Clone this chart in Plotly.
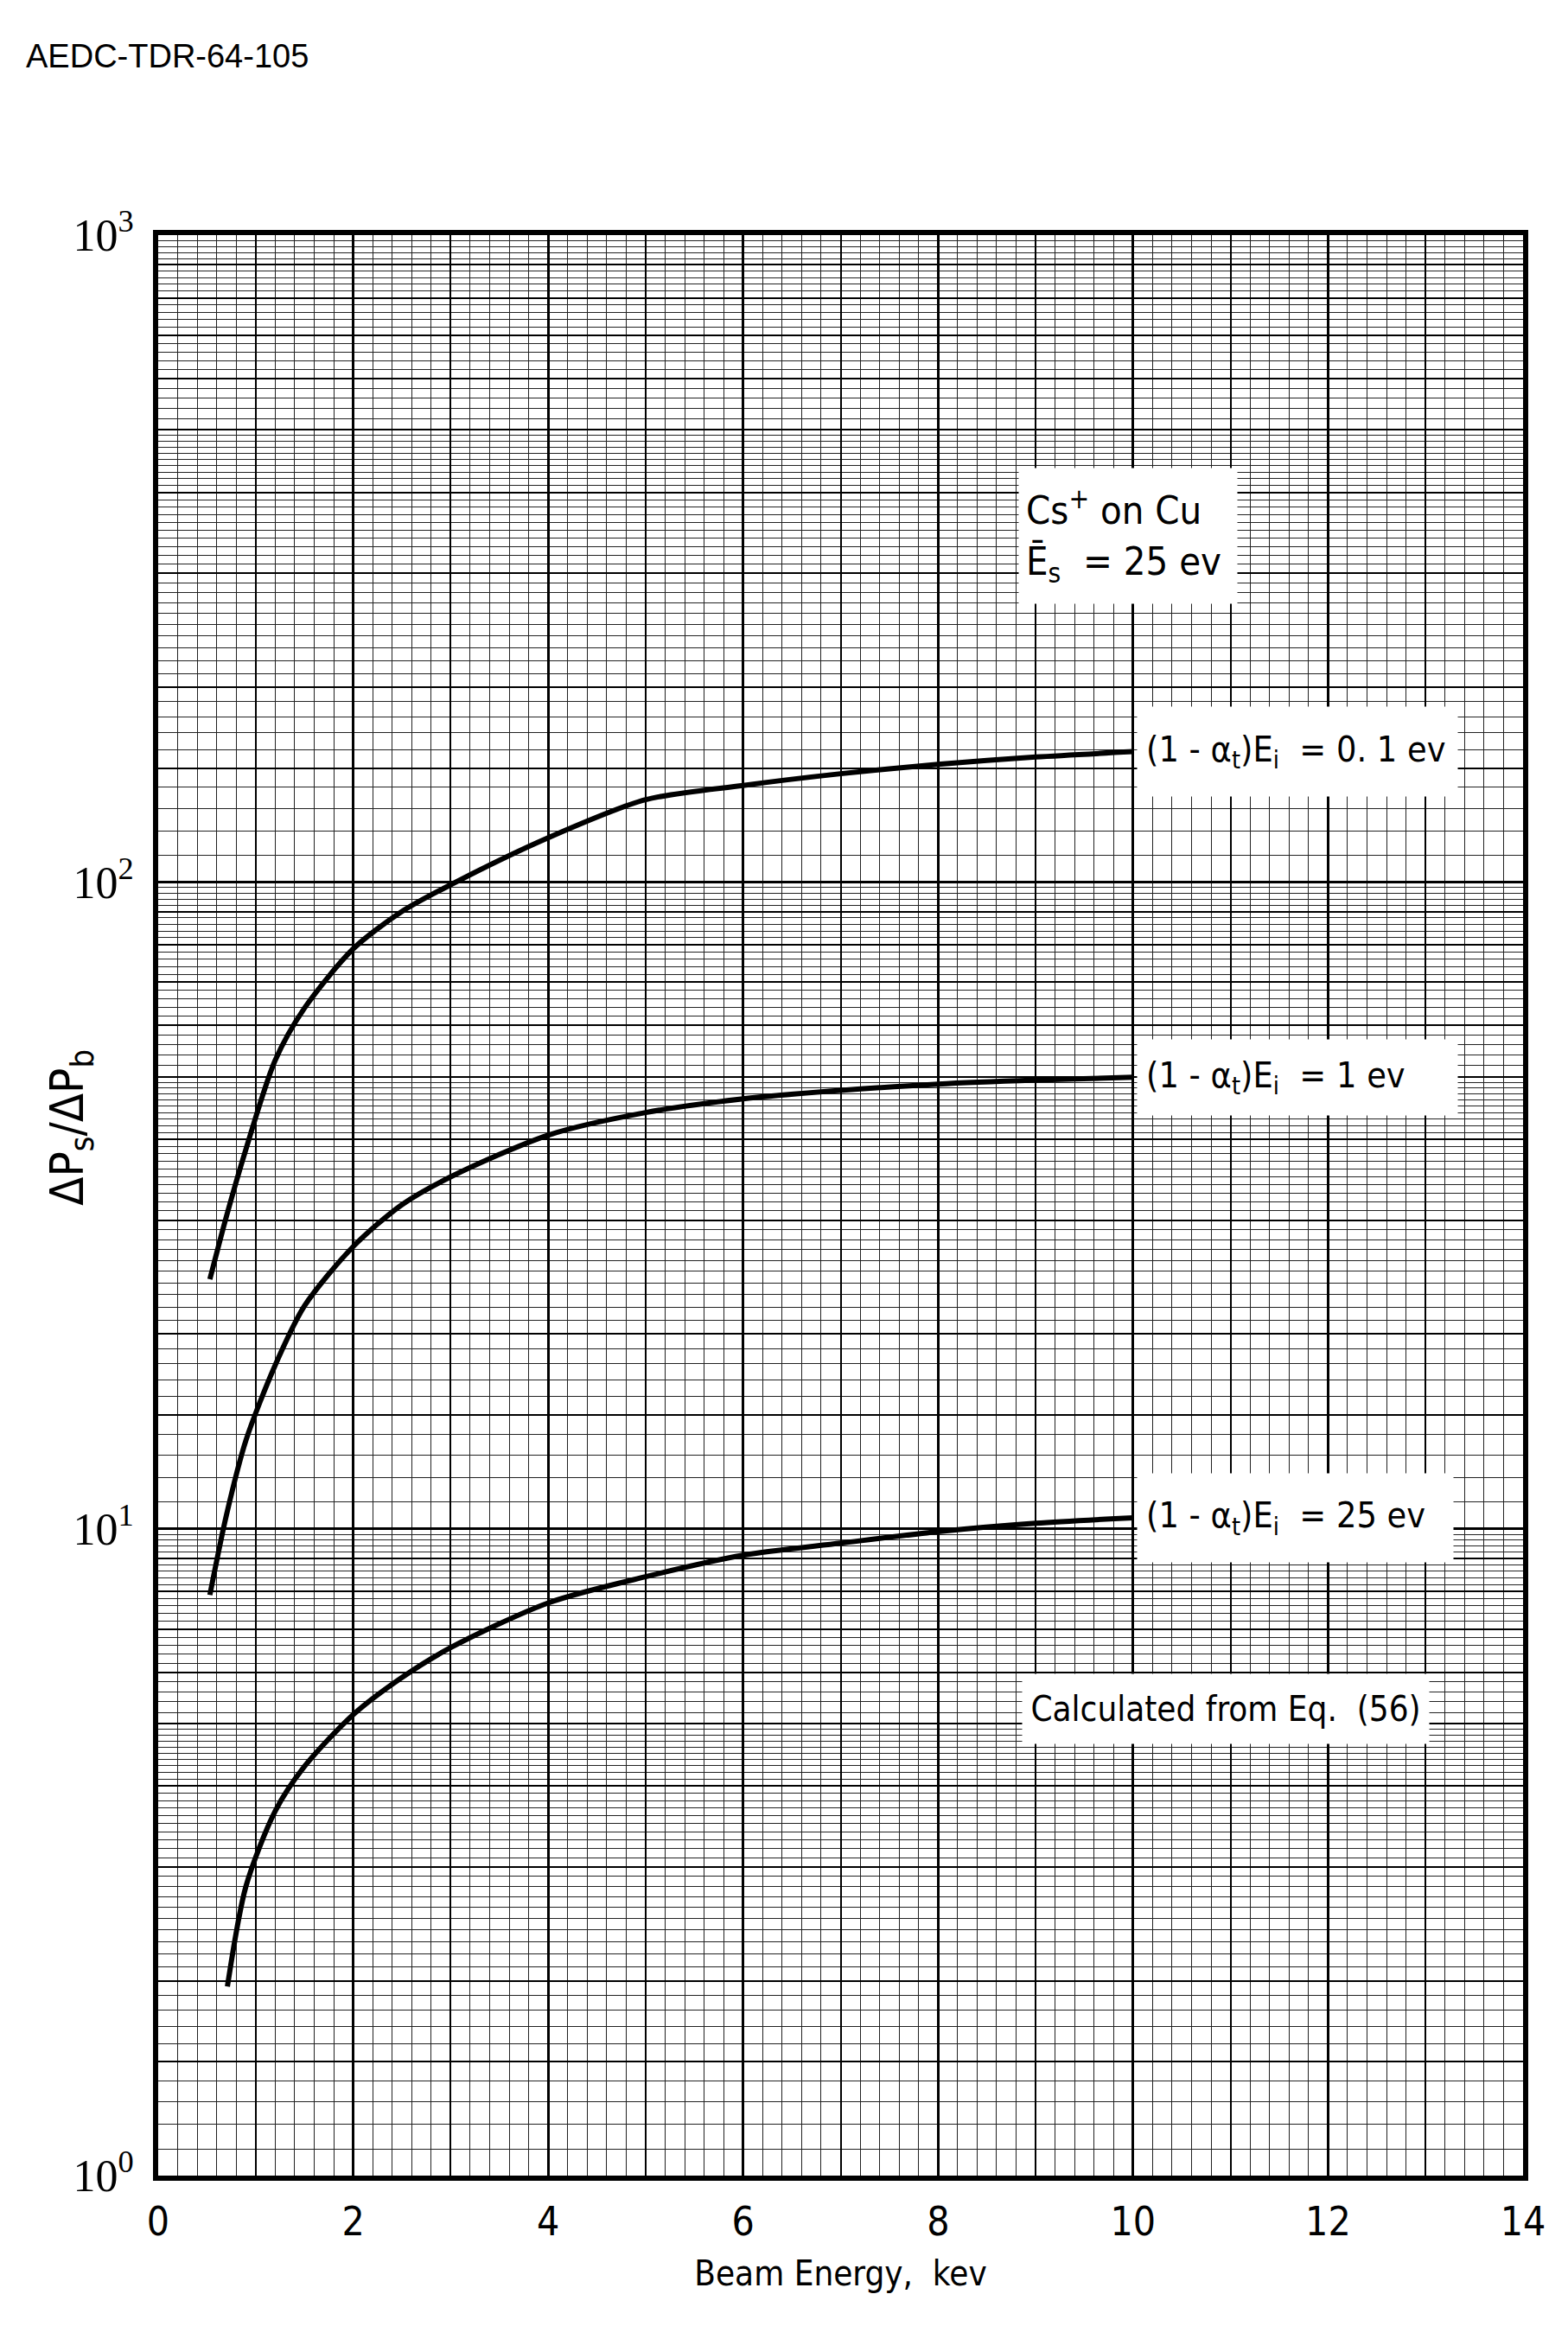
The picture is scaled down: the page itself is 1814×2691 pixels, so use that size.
import numpy as np
import plotly.graph_objects as go

# ---------------- data ----------------
energy_a = [0.53, 0.7, 0.9, 1.2, 1.5, 2.0, 2.5, 3.0, 4.0, 5.0, 6.0, 7.0, 8.0, 9.0, 10.0]
ratio_a = [24.3, 30.4, 38.6, 53.0, 63.8, 78.8, 90.0, 99.0, 117.0, 134.0, 141.0, 147.0, 152.0, 156.0, 159.0]

energy_b = [0.53, 0.7, 0.9, 1.2, 1.5, 2.0, 2.5, 3.0, 4.0, 5.0, 6.0, 7.0, 8.0, 9.0, 10.0]
ratio_b = [7.9, 10.5, 13.7, 17.9, 22.1, 27.3, 31.7, 35.0, 40.6, 44.0, 46.2, 47.6, 48.7, 49.4, 49.9]

energy_c = [0.71, 0.9, 1.2, 1.5, 2.0, 2.5, 3.0, 4.0, 5.0, 6.0, 7.0, 8.0, 9.0, 10.0]
ratio_c = [1.96, 2.8, 3.66, 4.29, 5.16, 5.89, 6.55, 7.68, 8.43, 9.1, 9.5, 9.9, 10.2, 10.4]

curve_labels = [
    "(1 - α<sub>t</sub>)E<sub>i</sub>  = 0. 1 ev",
    "(1 - α<sub>t</sub>)E<sub>i</sub>  = 1 ev",
    "(1 - α<sub>t</sub>)E<sub>i</sub>  = 25 ev",
]

x_tick_vals = [0, 2, 4, 6, 8, 10, 12, 14]
x_mid_vals = [1, 3, 5, 7, 9, 11, 13]
y_tick_vals = [1, 10, 100, 1000]
y_tick_text = ["10<sup>%d</sup>" % k for k in range(4)]
decades = [1, 10, 100]
mantissa_mid = [1.5, 2, 3, 4, 5, 6, 7, 8, 9]
mantissa_fine = [round(1 + 0.1 * k, 2) for k in range(1, 40)] + [round(5 + 0.2 * k, 2) for k in range(1, 25)]

y_mid_vals = [d * m for d in decades for m in mantissa_mid]
y_fine_vals = [d * m for d in decades for m in mantissa_fine if m not in mantissa_mid]

SANS = "Liberation Sans Narrow, DejaVu Sans Condensed, Liberation Sans, sans-serif"
SERIF = "Liberation Serif, DejaVu Serif, serif"

fig = go.Figure()
for xs, ys in [(energy_a, ratio_a), (energy_b, ratio_b), (energy_c, ratio_c)]:
    fig.add_trace(go.Scatter(
        x=xs, y=ys, mode="lines", xaxis="x2", yaxis="y2",
        line=dict(color="black", width=6, shape="spline", smoothing=0.8),
        showlegend=False, hoverinfo="skip"))

label_boxes = [(350, 83), (350, 67), (345, 82)]
annotations = []
for (xs, ys, lab), (bw, bh) in zip([(energy_a, ratio_a, curve_labels[0]),
                                    (energy_b, ratio_b, curve_labels[1]),
                                    (energy_c, ratio_c, curve_labels[2])], label_boxes):
    annotations.append(dict(
        x=xs[-1], y=np.log10(ys[-1]), xref="x", yref="y", text=lab,
        xanchor="left", yanchor="middle", xshift=4, showarrow=False,
        align="left", width=bw, height=bh,
        font=dict(family=SANS, size=41, color="black"),
        bgcolor="white", borderpad=10))

annotations.append(dict(
    x=9.95, y=np.log10(343), xref="x", yref="y",
    text="Cs<sup>+</sup> on Cu<br>Ē<sub>s</sub>  = 25 ev", align="left",
    width=236, height=140,
    showarrow=False, font=dict(family=SANS, size=45, color="black"),
    bgcolor="white", borderpad=8))
annotations.append(dict(
    x=10.95, y=np.log10(5.27), xref="x", yref="y",
    text="Calculated from Eq.  (56)", showarrow=False,
    width=450, height=60,
    font=dict(family=SANS, size=40, color="black"),
    bgcolor="white", borderpad=10))
annotations.append(dict(
    x=-0.088, y=0.54, xref="paper", yref="paper",
    text="ΔP<sub>s</sub>/ΔP<sub>b</sub>", textangle=-90, showarrow=False,
    font=dict(family=SANS, size=54, color="black")))
annotations.append(dict(
    x=-0.098, y=1.1026, xref="paper", yref="paper", xanchor="left",
    text="AEDC-TDR-64-105", showarrow=False,
    font=dict(family="Liberation Sans, sans-serif", size=38, color="black")))

fig.update_layout(
    width=1814, height=2691,
    margin=dict(l=183, r=52, t=272, b=174),
    paper_bgcolor="white", plot_bgcolor="white",
    annotations=annotations,
    xaxis=dict(
        range=[0, 14], tickmode="array", tickvals=x_tick_vals,
        showgrid=True, gridcolor="black", gridwidth=3,
        minor=dict(dtick=0.2, tick0=0, showgrid=True, gridcolor="#222222", gridwidth=1, ticks=""),
        showline=True, linewidth=6, linecolor="black", mirror=True,
        ticks="", ticklabelstandoff=8, zeroline=False,
        tickfont=dict(family=SANS, size=46, color="black"),
        title=dict(text="Beam Energy,  kev", standoff=22,
                   font=dict(family=SANS, size=40, color="black"))),
    yaxis=dict(
        type="log", range=[0, 3], tickmode="array",
        tickvals=y_tick_vals, ticktext=y_tick_text,
        showgrid=True, gridcolor="black", gridwidth=3,
        minor=dict(tickmode="array", tickvals=y_fine_vals, showgrid=True,
                   gridcolor="#222222", gridwidth=1, ticks=""),
        showline=True, linewidth=6, linecolor="black", mirror=True,
        ticks="", ticklabelstandoff=12, zeroline=False,
        tickfont=dict(family=SERIF, size=52, color="black")),
    xaxis2=dict(
        overlaying="x", range=[0, 14], tickmode="array", tickvals=x_mid_vals,
        showgrid=True, gridcolor="black", gridwidth=2, showticklabels=False,
        ticks="", showline=False, zeroline=False),
    yaxis2=dict(
        overlaying="y", type="log", range=[0, 3], tickmode="array", tickvals=y_mid_vals,
        showgrid=True, gridcolor="black", gridwidth=2, showticklabels=False,
        ticks="", showline=False, zeroline=False),
)

fig.write_html("out.html")
